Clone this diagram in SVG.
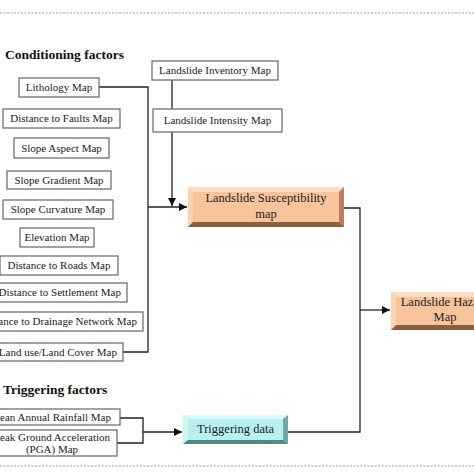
<svg xmlns="http://www.w3.org/2000/svg" width="474" height="474" viewBox="0 0 474 474">
<defs>
<style>
.bx{fill:#fff;stroke:#666;stroke-width:1.2}
.t{font-family:"Liberation Serif","Times New Roman",serif;font-size:11px;fill:#222}
.tb{font-family:"Liberation Serif","Times New Roman",serif;font-size:12.5px;fill:#222}
.h{font-family:"Liberation Serif","Times New Roman",serif;font-size:13.5px;font-weight:bold;fill:#111}
.ln{fill:none;stroke:#222;stroke-width:1.3}
.dash{stroke:#999;stroke-width:1;stroke-dasharray:2,1.5}
</style>
<marker id="ar" viewBox="0 0 10 10" refX="10" refY="5" markerWidth="8" markerHeight="8" markerUnits="userSpaceOnUse" orient="auto">
<path d="M0,0 L10,5 L0,10 z" fill="#111"/>
</marker>
</defs>
<rect width="474" height="474" fill="#fff"/>
<line class="dash" x1="0" y1="13" x2="474" y2="13"/>
<line class="dash" x1="0" y1="466" x2="474" y2="466"/>

<text class="h" x="5" y="59">Conditioning factors</text>
<text class="h" x="3" y="394">Triggering factors</text>

<g id="connectors">
<polyline class="ln" points="99,87 148,87 148,352 123,352"/>
<line class="ln" x1="148" y1="207" x2="187" y2="207" marker-end="url(#ar)"/>
<line class="ln" x1="172" y1="80" x2="172" y2="109"/>
<line class="ln" x1="172" y1="132" x2="172" y2="206" marker-end="url(#ar)"/>
<polyline class="ln" points="344,208 360,208 360,432 288,432"/>
<line class="ln" x1="360" y1="310" x2="390" y2="310" marker-end="url(#ar)"/>
<polyline class="ln" points="120,418 143,418 143,443 117,443"/>
<line class="ln" x1="143" y1="432" x2="182" y2="432" marker-end="url(#ar)"/>
</g>

<g id="lithology"><rect class="bx" x="19" y="78" width="80" height="19"/><text class="t" x="59" y="91" text-anchor="middle">Lithology Map</text></g>
<g id="faults"><rect class="bx" x="3" y="109" width="117" height="19"/><text class="t" x="61.5" y="122" text-anchor="middle">Distance to Faults Map</text></g>
<g id="aspect"><rect class="bx" x="14" y="138" width="95" height="20"/><text class="t" x="61.5" y="152" text-anchor="middle">Slope Aspect Map</text></g>
<g id="gradient"><rect class="bx" x="7" y="171" width="104" height="18"/><text class="t" x="59" y="184" text-anchor="middle">Slope Gradient Map</text></g>
<g id="curvature"><rect class="bx" x="3" y="200" width="110" height="19"/><text class="t" x="58" y="213" text-anchor="middle">Slope Curvature Map</text></g>
<g id="elevation"><rect class="bx" x="20" y="228" width="74" height="19"/><text class="t" x="57" y="241" text-anchor="middle">Elevation Map</text></g>
<g id="roads"><rect class="bx" x="0" y="256" width="118" height="19"/><text class="t" x="59" y="269" text-anchor="middle">Distance to Roads Map</text></g>
<g id="settlement"><rect class="bx" x="-10" y="283" width="137" height="19"/><text class="t" x="121" y="296" text-anchor="end">Distance to Settlement Map</text></g>
<g id="drainage"><rect class="bx" x="-30" y="312" width="173" height="19"/><text class="t" x="137" y="325" text-anchor="end">Distance to Drainage Network Map</text></g>
<g id="landuse"><rect class="bx" x="-20" y="343" width="143" height="18"/><text class="t" x="117" y="356" text-anchor="end">Land use/Land Cover Map</text></g>

<g id="inventory"><rect class="bx" x="152" y="61" width="126" height="19"/><text class="t" x="215" y="74" text-anchor="middle">Landslide Inventory Map</text></g>
<g id="intensity"><rect class="bx" x="153" y="109" width="129" height="23"/><text class="t" x="217.5" y="124" text-anchor="middle">Landslide Intensity Map</text></g>

<g id="susceptibility">
<rect x="188" y="187" width="156" height="40" fill="#F8C49C"/>
<polygon points="188,187 344,187 339,192 193,192" fill="#FBDDC4"/>
<polygon points="188,187 193,192 193,222 188,227" fill="#FAD3B2"/>
<polygon points="344,187 344,227 339,222 339,192" fill="#B98058"/>
<polygon points="188,227 344,227 339,222 193,222" fill="#8E5E3C"/>
<text class="tb" x="266" y="202" text-anchor="middle">Landslide Susceptibility</text>
<text class="tb" x="266" y="218" text-anchor="middle">map</text>
</g>

<g id="hazard">
<rect x="391" y="292" width="100" height="38" fill="#F8C49C"/>
<polygon points="391,292 491,292 486,297 396,297" fill="#FBDDC4"/>
<polygon points="391,292 396,297 396,325 391,330" fill="#FAD3B2"/>
<polygon points="391,330 491,330 486,325 396,325" fill="#8E5E3C"/>
<text class="tb" x="445" y="306" text-anchor="middle">Landslide Hazard</text>
<text class="tb" x="445" y="321" text-anchor="middle">Map</text>
</g>

<g id="rainfall"><rect class="bx" x="-12" y="409" width="132" height="16"/><text class="t" x="111" y="421" text-anchor="end">Mean Annual Rainfall Map</text></g>
<g id="pga"><rect class="bx" x="-15" y="430" width="132" height="26"/><text class="t" x="110" y="441" text-anchor="end">Peak Ground Acceleration</text><text class="t" x="52" y="453" text-anchor="middle">(PGA) Map</text></g>

<g id="triggering">
<rect x="183" y="415" width="105" height="29" fill="#B8F0EE"/>
<polygon points="183,415 288,415 283,419 188,419" fill="#D8FAF8"/>
<polygon points="183,415 188,419 188,440 183,444" fill="#CDF6F4"/>
<polygon points="288,415 288,444 283,440 283,419" fill="#6FA8A6"/>
<polygon points="183,444 288,444 283,440 188,440" fill="#4F8A88"/>
<text class="tb" x="235.5" y="433" text-anchor="middle">Triggering data</text>
</g>
</svg>
